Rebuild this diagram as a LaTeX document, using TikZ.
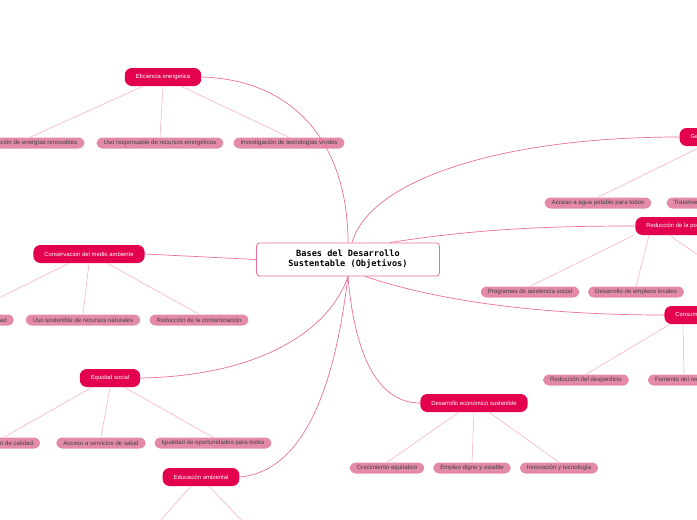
\documentclass[tikz,border=0pt]{standalone}
\usepackage{fontspec}
\setmainfont{Liberation Sans}
\setmonofont{DejaVu Sans Mono}
\definecolor{mainred}{HTML}{E3004F}
\definecolor{leafpink}{HTML}{E38AA8}
\definecolor{linkmain}{HTML}{EC6F98}
\definecolor{linkleaf}{HTML}{F5A9C2}
\begin{document}
\begin{tikzpicture}[x=1pt,y=-1pt,
  topic/.style={fill=mainred,rounded corners=7pt,minimum height=18pt,text=white,font=\fontsize{5.9}{6.5}\selectfont,inner xsep=11pt},
  leaf/.style={fill=leafpink,rounded corners=6pt,minimum height=11pt,inner ysep=1pt,text=black!75,font=\fontsize{6.1}{6.5}\selectfont,inner xsep=7pt},
  mainlink/.style={draw=linkmain,line width=0.7pt},
  leaflink/.style={draw=linkleaf,line width=0.5pt}]
\useasboundingbox (0,0) rectangle (697,520);
\node[draw=linkmain,line width=0.8pt,fill=white,rounded corners=3pt,minimum width=183pt,minimum height=33pt,align=center,font=\ttfamily\bfseries\fontsize{8.6}{10}\selectfont] (c) at (348,259.5) {Bases del Desarrollo\\Sustentable (Objetivos)};
% topics
\node[topic] (ef) at (163,77) {Eficiencia energetica};
\node[topic] (ga) at (727,137) {Gestión sostenible del agua};
\node[topic] (rp) at (679,226) {Reducción de la pobreza};
\node[topic] (cm) at (89,254) {Conservacion del medio ambiente};
\node[topic] (cr) at (705,315) {Consumo responsable};
\node[topic] (es) at (110,378) {Equidad social};
\node[topic] (de) at (474,403) {Desarrollo económico sostenible};
\node[topic] (ea) at (201,477) {Educación ambiental};
% leaves
\node[leaf] (ef1) at (30,143) {Promoción de energías renovables};
\node[leaf] (ef2) at (160,143) {Uso responsable de recursos energéticos};
\node[leaf] (ef3) at (289,143) {Investigación de tecnologías verdes};
\node[leaf] (ga1) at (598,203) {Acceso a agua potable para todos};
\node[leaf] (ga2) at (718,203) {Tratamiento de aguas residuales};
\node[leaf] (rp1) at (530,292) {Programas de asistencia social};
\node[leaf] (rp2) at (636,292) {Desarrollo de empleos locales};
\node[leaf] (rp3) at (744,292) {Acceso a la educación};
\node[leaf] (cm1) at (-34,320) {Protección de la biodiversidad};
\node[leaf] (cm2) at (83,320) {Uso sostenible de recursos naturales};
\node[leaf] (cm3) at (199,320) {Reducción de la contaminación};
\node[leaf] (cr1) at (586,380) {Reducción del desperdicio};
\node[leaf] (cr2) at (684,380) {Fomento del reciclaje};
\node[leaf] (es1) at (4,443) {Educación de calidad};
\node[leaf] (es2) at (101,443) {Acceso a servicios de salud};
\node[leaf] (es3) at (213,443) {Igualdad de oportunidades para todos};
\node[leaf] (de1) at (387,468) {Crecimiento equitativo};
\node[leaf] (de2) at (472,468) {Empleo digno y estable};
\node[leaf] (de3) at (559,468) {Innovación y tecnología};
\coordinate (ea1) at (158,523);
\coordinate (ea2) at (244,523);
% main links
\draw[mainlink] (ef.east) .. controls (300,80) and (348,150) .. (c.north);
\draw[mainlink] (cm.east) -- (c.west);
\draw[mainlink] (es.east) .. controls (260,376) and (330,330) .. (c.south);
\draw[mainlink] (ea.east) .. controls (320,470) and (340,340) .. (c.south);
\draw[mainlink] (c.south) .. controls (355,360) and (380,403) .. (de.west);
\draw[mainlink] ([xshift=4pt]c.north) .. controls (370,180) and (500,137) .. (ga.west);
\draw[mainlink] ([xshift=42pt]c.north) .. controls (480,228) and (560,226) .. (rp.west);
\draw[mainlink] ([xshift=17pt]c.south) .. controls (450,305) and (560,315) .. (cr.west);
% leaf links
\foreach \p/\l/\o in {ef/ef1/-20,ef/ef2/0,ef/ef3/18,ga/ga1/-25,ga/ga2/0,rp/rp1/-45,rp/rp2/-30,rp/rp3/-10,cm/cm1/-20,cm/cm2/0,cm/cm3/18,cr/cr1/-35,cr/cr2/-22,es/es1/-18,es/es2/0,es/es3/14,de/de1/-15,de/de2/0,de/de3/15}
  \draw[leaflink] ([xshift=\o pt]\p.south) -- (\l.north);
\draw[leaflink] ([xshift=-10pt]ea.south) -- (ea1);
\draw[leaflink] ([xshift=8pt]ea.south) -- (ea2);
\end{tikzpicture}
\end{document}
